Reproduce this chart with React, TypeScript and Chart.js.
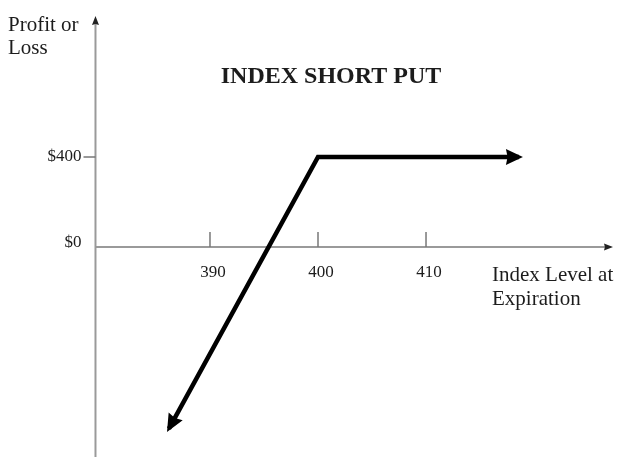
import React, { useEffect, useRef } from 'react';
import { Chart, registerables, Plugin } from 'chart.js';

Chart.register(...registerables);

// payoff of the short put (line ends just behind the arrow tips)
const indexLevels = [386.2, 400, 418.6];
const profitLoss = [-807, 400, 400];

const xTicks = [390, 400, 410];
const xTickLabels = ['390', '400', '410'];
const yTicks = [400, 0];
const yTickLabels = ['$400', '$0'];

const chartTitle = 'INDEX SHORT PUT';
const yAxisTitle = ['Profit or', 'Loss'];
const xAxisTitle = ['Index Level at', 'Expiration'];

const SERIF = "'Liberation Serif', 'Times New Roman', serif";
const AXIS_COLOR = '#9a9a9a';
const TEXT_COLOR = '#1c1c1c';

// x value where the vertical axis crosses
const Y_AXIS_AT = 379.4;

// filled arrow head; the tip is pushed `extra` px past the end point
const drawHead = (
  ctx: CanvasRenderingContext2D,
  fromX: number,
  fromY: number,
  toX: number,
  toY: number,
  len: number,
  half: number,
  color: string,
  extra = 0,
) => {
  const a = Math.atan2(toY - fromY, toX - fromX);
  ctx.save();
  ctx.translate(toX, toY);
  ctx.rotate(a);
  ctx.translate(extra, 0);
  ctx.fillStyle = color;
  ctx.beginPath();
  ctx.moveTo(0, 0);
  ctx.lineTo(-len, -half);
  ctx.lineTo(-len * 0.9, 0);
  ctx.lineTo(-len, half);
  ctx.closePath();
  ctx.fill();
  ctx.restore();
};

const axesPlugin: Plugin = {
  id: 'payoffAxes',
  beforeDatasetsDraw(chart) {
    const { ctx } = chart;
    const x = chart.scales.x;
    const y = chart.scales.y;
    const ax = x.getPixelForValue(Y_AXIS_AT);
    const ay = y.getPixelForValue(0);

    ctx.save();
    ctx.strokeStyle = AXIS_COLOR;
    ctx.lineWidth = 2;

    // vertical axis
    ctx.beginPath();
    ctx.moveTo(ax, 457);
    ctx.lineTo(ax, 24);
    ctx.stroke();
    drawHead(ctx, ax, 100, ax, 16, 9, 3.5, '#222');

    // horizontal axis
    ctx.beginPath();
    ctx.moveTo(ax, ay);
    ctx.lineTo(606, ay);
    ctx.stroke();
    drawHead(ctx, 500, ay, 613, ay, 9, 3.5, '#222');

    // x ticks (above the axis)
    ctx.lineWidth = 1.5;
    ctx.strokeStyle = '#777';
    xTicks.forEach((v) => {
      const px = x.getPixelForValue(v);
      ctx.beginPath();
      ctx.moveTo(px, ay - 15);
      ctx.lineTo(px, ay);
      ctx.stroke();
    });

    // y ticks (left of the axis), none at zero
    yTicks.forEach((v) => {
      if (v === 0) return;
      const py = y.getPixelForValue(v);
      ctx.beginPath();
      ctx.moveTo(ax - 12, py);
      ctx.lineTo(ax, py);
      ctx.stroke();
    });
    ctx.restore();
  },
  afterDatasetsDraw(chart) {
    const { ctx } = chart;
    const x = chart.scales.x;
    const y = chart.scales.y;
    const ax = x.getPixelForValue(Y_AXIS_AT);
    const ay = y.getPixelForValue(0);

    // arrow heads on both ends of the payoff line
    const pts = chart.getDatasetMeta(0).data;
    if (pts.length > 2) {
      const n = pts.length;
      drawHead(ctx, pts[1].x, pts[1].y, pts[0].x, pts[0].y, 18, 8, '#000', 4);
      drawHead(ctx, pts[n - 2].x, pts[n - 2].y, pts[n - 1].x, pts[n - 1].y, 17, 8, '#000', 4);
    }

    ctx.save();
    ctx.fillStyle = TEXT_COLOR;

    ctx.font = `17px ${SERIF}`;
    ctx.textAlign = 'center';
    ctx.textBaseline = 'alphabetic';
    xTicks.forEach((v, i) => {
      ctx.fillText(xTickLabels[i], x.getPixelForValue(v) + 3, ay + 30);
    });

    ctx.textAlign = 'right';
    ctx.textBaseline = 'middle';
    yTicks.forEach((v, i) => {
      const py = y.getPixelForValue(v);
      ctx.fillText(yTickLabels[i], ax - 14, v === 0 ? py - 4 : py);
    });

    ctx.font = `21px ${SERIF}`;
    ctx.textAlign = 'left';
    ctx.textBaseline = 'alphabetic';
    yAxisTitle.forEach((t, i) => ctx.fillText(t, 8, 31 + i * 23));
    xAxisTitle.forEach((t, i) => ctx.fillText(t, 492, 281 + i * 24));

    ctx.font = `bold 24px ${SERIF}`;
    ctx.textAlign = 'center';
    ctx.fillText(chartTitle, 331, 83);
    ctx.restore();
  },
};

const PayoffChart: React.FC = () => {
  const canvasRef = useRef<HTMLCanvasElement | null>(null);

  useEffect(() => {
    if (!canvasRef.current) return;

    const chart = new Chart(canvasRef.current, {
      type: 'scatter',
      data: {
        datasets: [
          {
            label: 'Short put',
            data: indexLevels.map((v, i) => ({ x: v, y: profitLoss[i] })),
            showLine: true,
            borderColor: '#000',
            borderWidth: 4.5,
            borderJoinStyle: 'miter',
            borderCapStyle: 'butt',
            pointRadius: 0,
            pointHoverRadius: 0,
            tension: 0,
          },
        ],
      },
      options: {
        responsive: false,
        animation: false,
        devicePixelRatio: 1,
        layout: { padding: 0 },
        plugins: {
          legend: { display: false },
          tooltip: { enabled: false },
        },
        events: [],
        scales: {
          x: { type: 'linear', min: 370.56, max: 429.81, display: false },
          y: { type: 'linear', min: -1000, max: 1097.8, display: false },
        },
      },
      plugins: [axesPlugin],
    });

    return () => chart.destroy();
  }, []);

  return <canvas ref={canvasRef} width={640} height={472} style={{ display: 'block' }} />;
};

export default function App() {
  useEffect(() => {
    document.body.style.margin = '0';
  }, []);
  return (
    <div style={{ width: 640, height: 472, background: '#fff' }}>
      <PayoffChart />
    </div>
  );
}
